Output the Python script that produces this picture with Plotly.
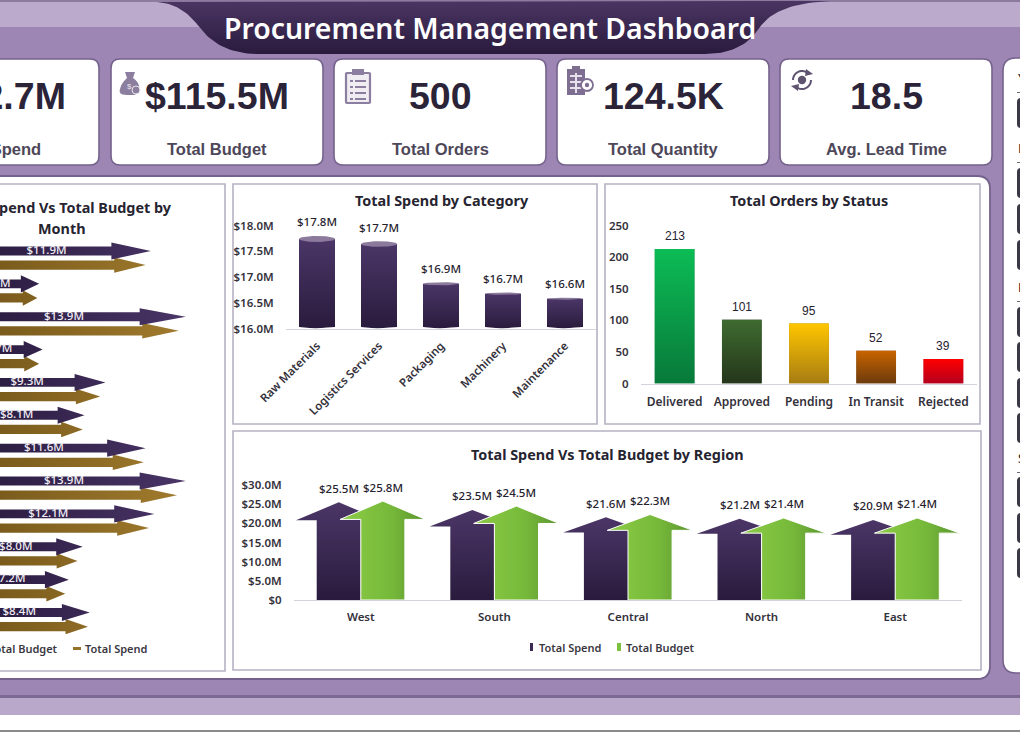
import numpy as np
import plotly.graph_objects as go

# ---- dashboard data ----
months = ["Jan", "Feb", "Mar", "Apr", "May", "Jun", "Jul", "Aug", "Sep", "Oct", "Nov", "Dec"]
month_budget = [11.9, 5.5, 13.9, 5.7, 9.3, 8.1, 11.6, 13.9, 12.1, 8.0, 7.2, 8.4]
month_spend = [11.6, 5.4, 13.5, 5.5, 9.0, 8.0, 11.5, 13.4, 11.8, 7.7, 7.0, 8.3]

categories = ["Raw Materials", "Logistics Services", "Packaging", "Machinery", "Maintenance"]
category_spend = [17.8, 17.7, 16.9, 16.7, 16.6]
category_ticks = [16.0, 16.5, 17.0, 17.5, 18.0]

statuses = ["Delivered", "Approved", "Pending", "In Transit", "Rejected"]
status_orders = [213, 101, 95, 52, 39]
status_ticks = [0, 50, 100, 150, 200, 250]
status_top = ["#0cbc55", "#3e6b30", "#ffc600", "#c86400", "#ff0000"]
status_bottom = ["#08793a", "#25361b", "#a67c12", "#6c3a0c", "#b4001e"]

regions = ["West", "South", "Central", "North", "East"]
region_spend = [25.5, 23.5, 21.6, 21.2, 20.9]
region_budget = [25.8, 24.5, 22.3, 21.4, 21.4]
region_ticks = [0, 5, 10, 15, 20, 25, 30]

kpi_values = ["$112.7M", "$115.5M", "500", "124.5K", "18.5"]
kpi_labels = ["Total Spend", "Total Budget", "Total Orders", "Total Quantity", "Avg. Lead Time"]
kpi_centers = [-6, 217, 440, 663, 886]
kpi_lefts = [-113, 111, 334, 557, 780]

filter_groups = [("Year", 78, 92, [98]),
                 ("Month", 148, 162, [168, 204, 240]),
                 ("Department", 287, 301, [307, 342, 378, 413]),
                 ("Supplier", 458, 472, [477, 513, 548])]

W, H = 1020, 732
PURPLE_TOP, PURPLE_BOTTOM = "#4b3667", "#291b3d"
BODY = "Liberation Sans"
SOFT = "Noto Sans"


def fx(x):
    return x / W


def fy(y):
    return 1 - y / H


def money(v):
    return f"${v:.1f}M"


def rounded(x0, y0, x1, y1, r):
    return (f"M{x0+r},{y0} L{x1-r},{y0} Q{x1},{y0} {x1},{y0+r} L{x1},{y1-r} Q{x1},{y1} {x1-r},{y1} "
            f"L{x0+r},{y1} Q{x0},{y1} {x0},{y1-r} L{x0},{y0+r} Q{x0},{y0} {x0+r},{y0} Z")


def bezier(p0, p1, p2, p3, n=24):
    t = np.linspace(0, 1, n)[:, None]
    p0, p1, p2, p3 = map(np.array, (p0, p1, p2, p3))
    return (1-t)**3*p0 + 3*(1-t)**2*t*p1 + 3*(1-t)*t**2*p2 + t**3*p3


shapes, notes = [], []


def box(x0, y0, x1, y1, fill, line=None, lw=0):
    shapes.append(dict(type="rect", xref="x", yref="y", x0=x0, y0=y0, x1=x1, y1=y1, fillcolor=fill,
                       line=dict(color=line or fill, width=lw), layer="below"))


def path(d, fill, line=None, lw=0):
    shapes.append(dict(type="path", xref="x", yref="y", path=d, fillcolor=fill,
                       line=dict(color=line or "rgba(0,0,0,0)", width=lw), layer="below"))


def disc(cx, cy, r, fill, line=None, lw=0):
    shapes.append(dict(type="circle", xref="x", yref="y", x0=cx - r, y0=cy - r, x1=cx + r, y1=cy + r, fillcolor=fill,
                       line=dict(color=line or "rgba(0,0,0,0)", width=lw), layer="below"))


def arc(cx, cy, r, a0, a1, color, lw):
    angles = np.radians(np.linspace(a0, a1, 16))
    points = " L".join(f"{cx + r*np.cos(a):.2f},{cy + r*np.sin(a):.2f}" for a in angles)
    shapes.append(dict(type="path", xref="x", yref="y", path="M" + points, line=dict(color=color, width=lw), layer="below"))


def text(x, y, s, size, color, family=BODY, weight=400, anchor="center"):
    notes.append(dict(xref="paper", yref="paper", x=fx(x), y=fy(y), text=s, showarrow=False, xanchor=anchor,
                      yanchor="middle", font=dict(size=size, color=color, family=family, weight=weight)))


def value_label(axis, x, y, s, shift, size=11.5, color="#26222e", family=SOFT, weight=500):
    notes.append(dict(xref=f"x{axis}", yref=f"y{axis}", x=x, y=y, text=s, showarrow=False, yshift=shift,
                      xanchor="center", yanchor="middle",
                      font=dict(size=size, color=color, family=family, weight=weight)))


# ---- page background and panels ----
box(0, 0, W, 696, "#9d85b4")
box(0, 2, W, 27, "#bcaacc")
box(0, 0, W, 2, "#8d7b9f")
box(0, 695, W, 698, "#7d6a92")
box(0, 698, W, 715, "#baa8cb")
box(0, 715, W, 730, "#ffffff")
box(0, 730, W, 732, "#8a8a8a")

for left in kpi_lefts:
    path(rounded(left, 59, left + 212, 165, 9), "#ffffff", "#75628c", 1.6)
path(rounded(-60, 176, 990, 679, 13), "#ffffff", "#75628c", 1.8)
path(rounded(1003, 58, 1100, 673, 13), "#ffffff", "#75628c", 1.6)

for x0, y0, x1, y1 in [(-60, 184, 225, 671), (233, 184, 597, 424), (605, 184, 980, 424), (233, 431, 981, 670)]:
    box(x0, y0, x1, y1, "#ffffff", "#b6b1c3", 1.6)

# ---- filter column along the right edge ----
for name, label_y, rule_y, tops in filter_groups:
    text(1016, label_y, name, 13, "#2d2b33", anchor="left", family=SOFT, weight=500)
    box(1017, rule_y, 1060, rule_y + 1, "#6e6a75")
    for top in tops:
        path(rounded(1017, top, 1080, top + 30, 4), "#3a3844")

# ---- KPI icons ----
ICON = "#8c7e9e"
path("M125,72 L135,72 L133,78 C139,82 140,87 139,90 C138,95 134,95 131,95 L127,95 C120,95 119,92 120,89 C121,84 124,81 127,78 Z", ICON)
disc(136, 90, 4, ICON, "#ffffff", 0.8)
text(129, 87, "$", 8, "#d8d2e0", weight=700)
path(rounded(346, 73, 370, 103, 1), "#efecf2", ICON, 2.2)
box(352, 69, 364, 75, ICON)
for row in (80, 86, 92, 98):
    box(350, row, 353, row + 2, ICON)
    box(355, row, 366, row + 2, ICON)
box(567, 69, 585, 95, "#7e6e92")
box(572, 66, 580, 71, "#7e6e92")
for row in (75, 81, 87):
    box(570, row, 582, row + 2, "#e6e1ec")
box(575, 73, 577, 93, "#e6e1ec")
disc(587, 85, 6, "#ffffff", "#7e6e92", 1.8)
disc(587, 85, 2.2, "#7e6e92")
arc(802, 80, 9, 180, 320, "#5f5470", 2)
arc(802, 80, 9, 0, 140, "#5f5470", 2)
disc(802, 80, 4.2, "#5f5470")
path("M806,69 L813,74 L805,76 Z", "#5f5470")
path("M798,91 L791,86 L799,84 Z", "#5f5470")

# ---- KPI text ----
for center, value, label in zip(kpi_centers, kpi_values, kpi_labels):
    text(center, 96, value, 37.5, "#2b2438", weight=700)
    text(center, 149.5, label, 16.5, "#4d4759", weight=700)

fig = go.Figure()

# Title banner, drawn on the full-page axes so it can carry a vertical gradient.
left_edge = np.vstack([bezier((157, 2), (176, 3), (190, 14), (200, 28)), bezier((200, 28), (212, 44), (232, 54), (257, 54))])
right_edge = np.vstack([bezier((705, 54), (732, 54), (748, 44), (758, 30)), bezier((758, 30), (770, 10), (795, 3), (830, 1))])
banner = np.vstack([left_edge, right_edge])
fig.add_trace(go.Scatter(x=banner[:, 0], y=banner[:, 1], mode="lines", fill="toself", line=dict(width=0),
                         fillgradient=dict(type="vertical", start=2, stop=54,
                                           colorscale=[[0, "#4a3562"], [1, "#2a1b3e"]]),
                         hoverinfo="skip", showlegend=False, xaxis="x", yaxis="y"))
text(490, 27.5, "Procurement Management Dashboard", 28.4, "#ffffff", family=SOFT, weight=600)


# ---- monthly arrows: bars pointing right from zero ----
def hbar_arrows(values, rows, offset, head_ratio, shaft, flare):
    xs, ys = [], []
    for v, row in zip(values, rows):
        c, head = row + offset, v * head_ratio
        xs += [0, v - head, v - head, v, v - head, v - head, 0, None]
        ys += [c - shaft, c - shaft, c - flare, c, c + flare, c + shaft, c + shaft, None]
    return xs, ys


rows = list(range(len(months)))
bx, by = hbar_arrows(month_budget, rows, -0.215, 0.19, 0.135, 0.26)
sx, sy = hbar_arrows(month_spend, rows, 0.215, 0.155, 0.14, 0.235)
fig.add_trace(go.Scatter(x=sx, y=sy, name="Total Spend", mode="lines", fill="toself", line=dict(width=0),
                         fillgradient=dict(type="horizontal", start=0, stop=14,
                                           colorscale=[[0, "#6f5217"], [1, "#a27c2e"]]),
                         xaxis="x2", yaxis="y2", showlegend=False, hoverinfo="skip"))
fig.add_trace(go.Scatter(x=bx, y=by, name="Total Budget", mode="lines", fill="toself", line=dict(width=0),
                         fillgradient=dict(type="horizontal", start=0, stop=14,
                                           colorscale=[[0, "#241739"], [1, "#4a3567"]]),
                         xaxis="x2", yaxis="y2", showlegend=False, hoverinfo="skip"))
# Labels are anchored by their right edge so long bars keep theirs on the page.
fig.add_trace(go.Scatter(x=[v / 2 + 1.12 for v in month_budget], y=[r - 0.215 for r in rows], mode="text",
                         text=[money(v) for v in month_budget], textposition="middle left",
                         textfont=dict(size=11.5, color="#f1eef5", family=SOFT, weight=500), cliponaxis=False,
                         xaxis="x2", yaxis="y2", showlegend=False, hoverinfo="skip"))
for i, title in enumerate(["Total Spend Vs Total Budget by", "Month"]):
    text(62, 207 + 22 * i, title, 14.4, "#262430", family=SOFT, weight=700)
text(60, 648.5, "Total Budget", 11, "#3a3742", family=SOFT, weight=600, anchor="right")
box(73, 647, 81, 650, "#96722a")
text(83, 648.5, "Total Spend", 11, "#3a3742", family=SOFT, weight=600, anchor="left")

# ---- spend by category: cylinders resting on the axis floor ----
theta = np.linspace(0, 2 * np.pi, 60)
half = 0.29
for i, v in enumerate(category_spend):
    cap = 0.065 * (v - category_ticks[0])
    shoulder = v - cap / 2
    sweep = np.linspace(0, np.pi, 20)
    body_x = np.r_[i - half, i + half, i + half * np.cos(sweep), i - half]
    body_y = np.r_[shoulder, shoulder, 16.0 + 0.03 * (1 - np.sin(sweep) ** 6), shoulder]
    fig.add_trace(go.Scatter(x=body_x, y=body_y, name=categories[i], mode="lines", fill="toself", line=dict(width=0),
                             fillgradient=dict(type="vertical", start=16, stop=shoulder,
                                               colorscale=[[0, PURPLE_BOTTOM], [1, PURPLE_TOP]]),
                             xaxis="x3", yaxis="y3", showlegend=False, hoverinfo="skip"))
    fig.add_trace(go.Scatter(x=i + half * np.cos(theta), y=shoulder + cap / 2 * np.sin(theta), mode="lines",
                             fill="toself", fillcolor="#8c7a9c", line=dict(width=0),
                             xaxis="x3", yaxis="y3", showlegend=False, hoverinfo="skip"))
    value_label(3, i, v, money(v), 14)
text(441.5, 200, "Total Spend by Category", 14.4, "#262430", family=SOFT, weight=700)

# ---- orders by status ----
fig.add_trace(go.Bar(x=list(range(5)), y=status_orders, width=0.59, marker=dict(color=status_bottom, line=dict(width=0)),
                     xaxis="x4", yaxis="y4", showlegend=False, hoverinfo="skip"))
for i, v in enumerate(status_orders):
    fig.add_trace(go.Scatter(x=[i - 0.295, i + 0.295, i + 0.295, i - 0.295, i - 0.295], y=[0, 0, v, v, 0], mode="lines",
                             fill="toself", line=dict(width=0),
                             fillgradient=dict(type="vertical", start=0, stop=v,
                                               colorscale=[[0, status_bottom[i]], [1, status_top[i]]]),
                             xaxis="x4", yaxis="y4", showlegend=False, hoverinfo="skip"))
    value_label(4, i, v, str(v), 13, size=12, family=BODY, weight=400)
text(809, 200, "Total Orders by Status", 14.4, "#262430", family=SOFT, weight=700)


# ---- spend vs budget by region: block arrows pointing up ----
def up_arrow(center, v):
    head = 0.185 * v
    return ([center - 0.165, center - 0.165, center - 0.32, center, center + 0.32, center + 0.165, center + 0.165, center - 0.165],
            [0, v - head, v - head, v, v - head, v - head, 0, 0])


for i, (s, b) in enumerate(zip(region_spend, region_budget)):
    ax, ay = up_arrow(i - 0.165, s)
    fig.add_trace(go.Scatter(x=ax, y=ay, name="Total Spend", mode="lines", fill="toself", line=dict(width=0),
                             fillgradient=dict(type="vertical", start=0, stop=s,
                                               colorscale=[[0, PURPLE_BOTTOM], [1, PURPLE_TOP]]),
                             xaxis="x5", yaxis="y5", showlegend=False, hoverinfo="skip"))
    ax, ay = up_arrow(i + 0.165, b)
    fig.add_trace(go.Scatter(x=ax, y=ay, name="Total Budget", mode="lines", fill="toself",
                             line=dict(width=1, color="#ffffff"),
                             fillgradient=dict(type="horizontal", start=i + 0.165 - 0.32, stop=i + 0.165 + 0.32,
                                               colorscale=[[0, "#8ccb45"], [0.6, "#76b93a"], [1, "#5c9430"]]),
                             xaxis="x5", yaxis="y5", showlegend=False, hoverinfo="skip"))
    value_label(5, i - 0.165, s, money(s), 14)
    value_label(5, i + 0.165, b, money(b), 14)
text(607, 454, "Total Spend Vs Total Budget by Region", 14.4, "#262430", family=SOFT, weight=700)
box(530, 643, 533, 651, "#3c2a55")
text(537, 647.5, "Total Spend", 11, "#3a3742", family=SOFT, weight=600, anchor="left")
box(617, 643, 621, 651, "#7cc040")
text(624, 647.5, "Total Budget", 11, "#3a3742", family=SOFT, weight=600, anchor="left")

HIDE = dict(visible=False, fixedrange=True)


def tick_font(size=11.5):
    return dict(size=size, color="#34313b", family=SOFT, weight=600)


def y_axis(domain_px, rng, vals, labels, anchor):
    return dict(domain=[fy(domain_px[1]), fy(domain_px[0])], range=rng, tickvals=vals, ticktext=labels,
                showgrid=False, zeroline=False, showline=False, ticks="outside", ticklen=9,
                tickcolor="rgba(0,0,0,0)", tickfont=tick_font(), anchor=anchor, fixedrange=True)


def x_axis(domain_px, n, labels, anchor, angle=0, ticklen=7, size=11.5):
    return dict(domain=[fx(domain_px[0]), fx(domain_px[1])], range=[-0.5, n - 0.5], tickvals=list(range(n)),
                ticktext=labels, tickangle=angle, showgrid=False, zeroline=False, showline=True, linecolor="#d6d2dc",
                linewidth=1.4, ticks="outside", ticklen=ticklen, tickcolor="rgba(0,0,0,0)", tickfont=tick_font(size),
                anchor=anchor, fixedrange=True)


fig.update_layout(
    width=W, height=H, margin=dict(l=0, r=0, t=0, b=0, pad=0, autoexpand=False),
    paper_bgcolor="#ffffff", plot_bgcolor="rgba(0,0,0,0)", showlegend=False, barmode="overlay",
    shapes=shapes, annotations=notes,
    xaxis=dict(domain=[0, 1], range=[0, W], **HIDE),
    yaxis=dict(domain=[0, 1], range=[H, 0], **HIDE),
    xaxis2=dict(domain=[0, fx(215)], range=[3.26, 3.26 + 215 / 17.46], anchor="y2", **HIDE),
    yaxis2=dict(domain=[fy(636), fy(241.6)], range=[11.5, -0.5], anchor="x2", **HIDE),
    xaxis3=x_axis((286, 596), 5, categories, "y3", angle=-45, ticklen=5),
    yaxis3=y_axis((225.7, 328.5), [16, 18], category_ticks, [money(v) for v in category_ticks], "x3"),
    xaxis4=x_axis((641, 977), 5, statuses, "y4", ticklen=7, size=12),
    yaxis4=y_axis((225.7, 383.5), [0, 250], status_ticks, [str(v) for v in status_ticks], "x4"),
    xaxis5=x_axis((294, 962), 5, regions, "y5", ticklen=6),
    yaxis5=y_axis((485, 600), [0, 30], region_ticks, ["$0"] + [f"${v:.1f}M" for v in region_ticks[1:]], "x5"),
)

fig.write_html("out.html")
